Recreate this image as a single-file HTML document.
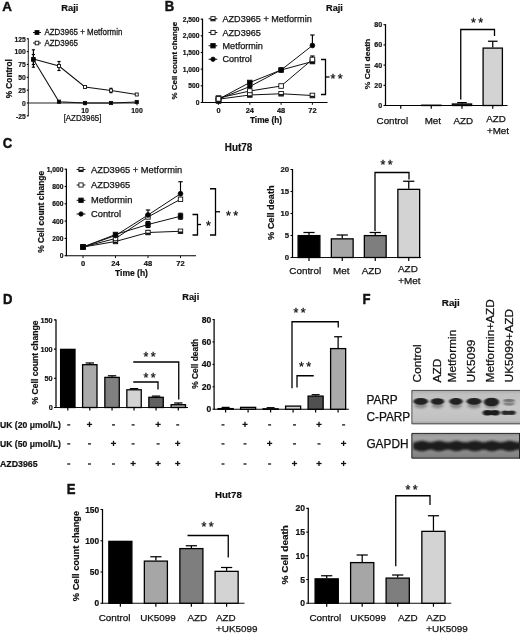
<!DOCTYPE html>
<html><head><meta charset="utf-8"><title>Figure</title>
<style>
html,body{margin:0;padding:0;background:#fff;}
body{width:520px;height:633px;overflow:hidden;}
svg{display:block;font-family:"Liberation Sans", sans-serif;filter:blur(0.35px);}
</style></head><body>
<svg width="520" height="633" viewBox="0 0 520 633">
<rect width="520" height="633" fill="#fff"/>
<text x="2.2" y="11.4" font-size="13.4" font-weight="bold" stroke="#111" stroke-width="0.45" text-anchor="start" fill="#111">A</text>
<text x="0" y="0" font-size="13.79" font-weight="bold" stroke="#111" stroke-width="0.45" text-anchor="start" fill="#111" transform="translate(164.8 11.1) scale(0.95 1)">B</text>
<text x="0" y="0" font-size="13.79" font-weight="bold" stroke="#111" stroke-width="0.45" text-anchor="start" fill="#111" transform="translate(2.7 147.8) scale(0.95 1)">C</text>
<text x="0" y="0" font-size="13.79" font-weight="bold" stroke="#111" stroke-width="0.45" text-anchor="start" fill="#111" transform="translate(2.9 303.6) scale(0.95 1)">D</text>
<text x="0" y="0" font-size="13.79" font-weight="bold" stroke="#111" stroke-width="0.45" text-anchor="start" fill="#111" transform="translate(66.8 494) scale(0.95 1)">E</text>
<text x="0" y="0" font-size="13.79" font-weight="bold" stroke="#111" stroke-width="0.45" text-anchor="start" fill="#111" transform="translate(362.5 303.6) scale(0.95 1)">F</text>
<text x="69.8" y="11.4" font-size="9.3" font-weight="bold" stroke="#111" stroke-width="0.2" text-anchor="middle" fill="#111">Raji</text>
<line x1="28.3" y1="38.25" x2="28.3" y2="116.35" stroke="#222" stroke-width="1.0"/>
<line x1="26.8" y1="38.75" x2="28.3" y2="38.75" stroke="#000" stroke-width="1.1"/>
<text x="0" y="0" font-size="7.91" font-weight="bold" stroke="#111" stroke-width="0.2" text-anchor="end" fill="#111" transform="translate(25.8 41.58) scale(0.86 1)">125</text>
<line x1="26.8" y1="51.6" x2="28.3" y2="51.6" stroke="#000" stroke-width="1.1"/>
<text x="0" y="0" font-size="7.91" font-weight="bold" stroke="#111" stroke-width="0.2" text-anchor="end" fill="#111" transform="translate(25.8 54.43) scale(0.86 1)">100</text>
<line x1="26.8" y1="64.45" x2="28.3" y2="64.45" stroke="#000" stroke-width="1.1"/>
<text x="0" y="0" font-size="7.91" font-weight="bold" stroke="#111" stroke-width="0.2" text-anchor="end" fill="#111" transform="translate(25.8 67.28) scale(0.86 1)">75</text>
<line x1="26.8" y1="77.3" x2="28.3" y2="77.3" stroke="#000" stroke-width="1.1"/>
<text x="0" y="0" font-size="7.91" font-weight="bold" stroke="#111" stroke-width="0.2" text-anchor="end" fill="#111" transform="translate(25.8 80.13) scale(0.86 1)">50</text>
<line x1="26.8" y1="90.15" x2="28.3" y2="90.15" stroke="#000" stroke-width="1.1"/>
<text x="0" y="0" font-size="7.91" font-weight="bold" stroke="#111" stroke-width="0.2" text-anchor="end" fill="#111" transform="translate(25.8 92.98) scale(0.86 1)">25</text>
<line x1="26.8" y1="103.0" x2="28.3" y2="103.0" stroke="#000" stroke-width="1.1"/>
<text x="0" y="0" font-size="7.91" font-weight="bold" stroke="#111" stroke-width="0.2" text-anchor="end" fill="#111" transform="translate(25.8 105.83) scale(0.86 1)">0</text>
<line x1="26.8" y1="115.85" x2="28.3" y2="115.85" stroke="#000" stroke-width="1.1"/>
<text x="0" y="0" font-size="7.91" font-weight="bold" stroke="#111" stroke-width="0.2" text-anchor="end" fill="#111" transform="translate(25.8 118.68) scale(0.86 1)">-25</text>
<line x1="28.3" y1="103" x2="137.5" y2="103" stroke="#222" stroke-width="1.0"/>
<line x1="85" y1="103" x2="85" y2="105.3" stroke="#111" stroke-width="1"/>
<line x1="137" y1="103" x2="137" y2="105.3" stroke="#111" stroke-width="1"/>
<text x="0" y="0" font-size="7.84" font-weight="bold" stroke="#111" stroke-width="0.2" text-anchor="middle" fill="#111" transform="translate(85 113.11) scale(0.88 1)">10</text>
<text x="0" y="0" font-size="7.84" font-weight="bold" stroke="#111" stroke-width="0.2" text-anchor="middle" fill="#111" transform="translate(137 113.11) scale(0.88 1)">100</text>
<text x="0" y="0" font-size="8.49" stroke="#111" stroke-width="0.25" text-anchor="middle" fill="#111" transform="translate(82.5 121.04) scale(0.93 1)">[AZD3965]</text>
<text x="12.37" y="78.75" font-size="8.3" font-weight="bold" stroke="#111" stroke-width="0.2" text-anchor="middle" fill="#111" transform="rotate(-90 12.37 78.75)">% Control</text>
<line x1="33" y1="32.5" x2="41" y2="32.5" stroke="#111" stroke-width="1"/>
<rect x="35.05" y="30.55" width="3.9" height="3.9" fill="#000" stroke="#111" stroke-width="0.9"/>
<text x="0" y="0" font-size="8.64" stroke="#111" stroke-width="0.25" text-anchor="start" fill="#111" transform="translate(44.4 35.39) scale(0.92 1)">AZD3965 + Metformin</text>
<line x1="33" y1="43" x2="41" y2="43" stroke="#111" stroke-width="1"/>
<rect x="35.2" y="41.2" width="3.6" height="3.6" fill="#fff" stroke="#111" stroke-width="0.9"/>
<text x="0" y="0" font-size="8.64" stroke="#111" stroke-width="0.25" text-anchor="start" fill="#111" transform="translate(44.4 45.89) scale(0.92 1)">AZD3965</text>
<polyline points="33.4,59 59,66 85,87 111,90.5 136.75,94.5" fill="none" stroke="#111" stroke-width="1.1"/>
<polyline points="33.4,59.5 59,101.7 85,103 111,103 136.75,102" fill="none" stroke="#111" stroke-width="1.1"/>
<line x1="33.4" y1="49.8" x2="33.4" y2="67.2" stroke="#000" stroke-width="1.15"/>
<line x1="31.799999999999997" y1="49.8" x2="35.0" y2="49.8" stroke="#000" stroke-width="1.15"/>
<line x1="31.799999999999997" y1="67.2" x2="35.0" y2="67.2" stroke="#000" stroke-width="1.15"/>
<line x1="33.4" y1="54.5" x2="33.4" y2="64.5" stroke="#000" stroke-width="1.15"/>
<line x1="31.799999999999997" y1="54.5" x2="35.0" y2="54.5" stroke="#000" stroke-width="1.15"/>
<line x1="31.799999999999997" y1="64.5" x2="35.0" y2="64.5" stroke="#000" stroke-width="1.15"/>
<line x1="59" y1="61.5" x2="59" y2="70.5" stroke="#000" stroke-width="1.15"/>
<line x1="57.4" y1="61.5" x2="60.6" y2="61.5" stroke="#000" stroke-width="1.15"/>
<line x1="57.4" y1="70.5" x2="60.6" y2="70.5" stroke="#000" stroke-width="1.15"/>
<line x1="111" y1="88.3" x2="111" y2="92.7" stroke="#000" stroke-width="1.15"/>
<line x1="109.6" y1="88.3" x2="112.4" y2="88.3" stroke="#000" stroke-width="1.15"/>
<line x1="109.6" y1="92.7" x2="112.4" y2="92.7" stroke="#000" stroke-width="1.15"/>
<rect x="31.8" y="57.9" width="3.2" height="3.2" fill="#000" stroke="#111" stroke-width="0.9"/>
<rect x="57.4" y="100.1" width="3.2" height="3.2" fill="#000" stroke="#111" stroke-width="0.9"/>
<rect x="83.4" y="101.4" width="3.2" height="3.2" fill="#000" stroke="#111" stroke-width="0.9"/>
<rect x="109.4" y="101.4" width="3.2" height="3.2" fill="#000" stroke="#111" stroke-width="0.9"/>
<rect x="135.15" y="100.4" width="3.2" height="3.2" fill="#000" stroke="#111" stroke-width="0.9"/>
<rect x="31.9" y="57.5" width="3.0" height="3.0" fill="#fff" stroke="#111" stroke-width="0.9"/>
<rect x="57.5" y="64.5" width="3.0" height="3.0" fill="#fff" stroke="#111" stroke-width="0.9"/>
<rect x="83.5" y="85.5" width="3.0" height="3.0" fill="#fff" stroke="#111" stroke-width="0.9"/>
<rect x="109.5" y="89.0" width="3.0" height="3.0" fill="#fff" stroke="#111" stroke-width="0.9"/>
<rect x="135.25" y="93.0" width="3.0" height="3.0" fill="#fff" stroke="#111" stroke-width="0.9"/>
<rect x="31.7" y="57.8" width="3.4" height="3.4" fill="#000" stroke="#111" stroke-width="0.9"/>
<text x="334.5" y="11.2" font-size="9.2" font-weight="bold" stroke="#111" stroke-width="0.2" text-anchor="middle" fill="#111">Raji</text>
<line x1="202.5" y1="18.64999999999999" x2="202.5" y2="103.0" stroke="#000" stroke-width="1.25"/>
<line x1="200.7" y1="19.14999999999999" x2="202.5" y2="19.14999999999999" stroke="#000" stroke-width="1.1"/>
<text x="199.5" y="21.55" font-size="6.7" font-weight="bold" stroke="#111" stroke-width="0.2" text-anchor="end" fill="#111">2,500</text>
<line x1="200.7" y1="35.81999999999999" x2="202.5" y2="35.81999999999999" stroke="#000" stroke-width="1.1"/>
<text x="199.5" y="38.22" font-size="6.7" font-weight="bold" stroke="#111" stroke-width="0.2" text-anchor="end" fill="#111">2,000</text>
<line x1="200.7" y1="52.489999999999995" x2="202.5" y2="52.489999999999995" stroke="#000" stroke-width="1.1"/>
<text x="199.5" y="54.89" font-size="6.7" font-weight="bold" stroke="#111" stroke-width="0.2" text-anchor="end" fill="#111">1,500</text>
<line x1="200.7" y1="69.16" x2="202.5" y2="69.16" stroke="#000" stroke-width="1.1"/>
<text x="199.5" y="71.56" font-size="6.7" font-weight="bold" stroke="#111" stroke-width="0.2" text-anchor="end" fill="#111">1,000</text>
<line x1="200.7" y1="85.83" x2="202.5" y2="85.83" stroke="#000" stroke-width="1.1"/>
<text x="199.5" y="88.23" font-size="6.7" font-weight="bold" stroke="#111" stroke-width="0.2" text-anchor="end" fill="#111">500</text>
<line x1="200.7" y1="102.5" x2="202.5" y2="102.5" stroke="#000" stroke-width="1.1"/>
<text x="199.5" y="104.9" font-size="6.7" font-weight="bold" stroke="#111" stroke-width="0.2" text-anchor="end" fill="#111">0</text>
<line x1="202.5" y1="102.5" x2="327.5" y2="102.5" stroke="#000" stroke-width="1.15"/>
<line x1="218.5" y1="102.5" x2="218.5" y2="104.8" stroke="#111" stroke-width="1"/>
<text x="218.5" y="112.65" font-size="7.4" font-weight="bold" stroke="#111" stroke-width="0.2" text-anchor="middle" fill="#111">0</text>
<line x1="249.8" y1="102.5" x2="249.8" y2="104.8" stroke="#111" stroke-width="1"/>
<text x="249.8" y="112.65" font-size="7.4" font-weight="bold" stroke="#111" stroke-width="0.2" text-anchor="middle" fill="#111">24</text>
<line x1="281.1" y1="102.5" x2="281.1" y2="104.8" stroke="#111" stroke-width="1"/>
<text x="281.1" y="112.65" font-size="7.4" font-weight="bold" stroke="#111" stroke-width="0.2" text-anchor="middle" fill="#111">48</text>
<line x1="312.4" y1="102.5" x2="312.4" y2="104.8" stroke="#111" stroke-width="1"/>
<text x="312.4" y="112.65" font-size="7.4" font-weight="bold" stroke="#111" stroke-width="0.2" text-anchor="middle" fill="#111">72</text>
<text x="266" y="122.97" font-size="8.3" font-weight="bold" stroke="#111" stroke-width="0.2" text-anchor="middle" fill="#111">Time (h)</text>
<text x="176.75" y="60.7" font-size="7.95" font-weight="bold" stroke="#111" stroke-width="0.2" text-anchor="middle" fill="#111" transform="rotate(-90 176.75 60.7)">% Cell count change</text>
<line x1="208.6" y1="18.75" x2="217.4" y2="18.75" stroke="#111" stroke-width="1"/>
<rect x="210.9" y="16.65" width="4.2" height="4.2" fill="#fff" stroke="#111" stroke-width="0.9"/>
<line x1="210.9" y1="19.85" x2="215.1" y2="19.85" stroke="#111" stroke-width="1.7"/>
<text x="222.5" y="21.81" font-size="9.1" stroke="#111" stroke-width="0.25" text-anchor="start" fill="#111">AZD3965 + Metformin</text>
<line x1="208.6" y1="32.5" x2="217.4" y2="32.5" stroke="#111" stroke-width="1"/>
<rect x="210.9" y="30.4" width="4.2" height="4.2" fill="#fff" stroke="#111" stroke-width="0.9"/>
<text x="222.5" y="35.56" font-size="9.1" stroke="#111" stroke-width="0.25" text-anchor="start" fill="#111">AZD3965</text>
<line x1="208.6" y1="45.75" x2="217.4" y2="45.75" stroke="#111" stroke-width="1"/>
<rect x="210.8" y="43.55" width="4.4" height="4.4" fill="#000" stroke="#111" stroke-width="0.9"/>
<text x="222.5" y="48.81" font-size="9.1" stroke="#111" stroke-width="0.25" text-anchor="start" fill="#111">Metformin</text>
<line x1="208.6" y1="59.25" x2="217.4" y2="59.25" stroke="#111" stroke-width="1"/>
<circle cx="213" cy="59.25" r="2.2" fill="#000" stroke="#111" stroke-width="0.8"/>
<text x="222.5" y="62.31" font-size="9.1" stroke="#111" stroke-width="0.25" text-anchor="start" fill="#111">Control</text>
<polyline points="218.5,99.2 249.8,86.5 281.1,70 312.4,45.5" fill="none" stroke="#111" stroke-width="1.0"/>
<polyline points="218.5,99.2 249.8,82.5 281.1,70 312.4,61.5" fill="none" stroke="#111" stroke-width="1.0"/>
<polyline points="218.5,98 249.8,91 281.1,86 312.4,59.5" fill="none" stroke="#111" stroke-width="1.0"/>
<polyline points="218.5,99.2 249.8,95 281.1,93.75 312.4,95.5" fill="none" stroke="#111" stroke-width="1.0"/>
<line x1="312.4" y1="35" x2="312.4" y2="45.5" stroke="#000" stroke-width="1.15"/>
<line x1="310.2" y1="35" x2="314.59999999999997" y2="35" stroke="#000" stroke-width="1.15"/>
<line x1="312.4" y1="56" x2="312.4" y2="59.5" stroke="#000" stroke-width="1.15"/>
<line x1="310.2" y1="56" x2="314.59999999999997" y2="56" stroke="#000" stroke-width="1.15"/>
<circle cx="218.5" cy="99.2" r="2.4" fill="#000" stroke="#111" stroke-width="0.8"/>
<circle cx="249.8" cy="86.5" r="2.4" fill="#000" stroke="#111" stroke-width="0.8"/>
<circle cx="281.1" cy="70" r="2.4" fill="#000" stroke="#111" stroke-width="0.8"/>
<circle cx="312.4" cy="45.5" r="2.4" fill="#000" stroke="#111" stroke-width="0.8"/>
<rect x="216.2" y="96.9" width="4.6" height="4.6" fill="#000" stroke="#111" stroke-width="0.9"/>
<rect x="247.5" y="80.2" width="4.6" height="4.6" fill="#000" stroke="#111" stroke-width="0.9"/>
<rect x="278.8" y="67.7" width="4.6" height="4.6" fill="#000" stroke="#111" stroke-width="0.9"/>
<rect x="310.1" y="59.2" width="4.6" height="4.6" fill="#000" stroke="#111" stroke-width="0.9"/>
<rect x="216.2" y="95.7" width="4.6" height="4.6" fill="#fff" stroke="#111" stroke-width="0.9"/>
<rect x="247.5" y="88.7" width="4.6" height="4.6" fill="#fff" stroke="#111" stroke-width="0.9"/>
<rect x="278.8" y="83.7" width="4.6" height="4.6" fill="#fff" stroke="#111" stroke-width="0.9"/>
<rect x="310.1" y="57.2" width="4.6" height="4.6" fill="#fff" stroke="#111" stroke-width="0.9"/>
<rect x="216.2" y="96.9" width="4.6" height="4.6" fill="#fff" stroke="#111" stroke-width="0.9"/>
<line x1="216.2" y1="100.4" x2="220.8" y2="100.4" stroke="#111" stroke-width="1.8"/>
<rect x="247.5" y="92.7" width="4.6" height="4.6" fill="#fff" stroke="#111" stroke-width="0.9"/>
<line x1="247.5" y1="96.2" x2="252.10000000000002" y2="96.2" stroke="#111" stroke-width="1.8"/>
<rect x="278.8" y="91.45" width="4.6" height="4.6" fill="#fff" stroke="#111" stroke-width="0.9"/>
<line x1="278.8" y1="94.95" x2="283.40000000000003" y2="94.95" stroke="#111" stroke-width="1.8"/>
<rect x="310.1" y="93.2" width="4.6" height="4.6" fill="#fff" stroke="#111" stroke-width="0.9"/>
<line x1="310.09999999999997" y1="96.7" x2="314.7" y2="96.7" stroke="#111" stroke-width="1.8"/>
<rect x="216.2" y="98.7" width="4.6" height="4.6" fill="#000" stroke="#111" stroke-width="0.9"/>
<rect x="216.2" y="96.6" width="4.6" height="4.6" fill="#fff" stroke="#111" stroke-width="0.9"/>
<polyline points="321,59.5 325.5,59.5 325.5,94.5 321,94.5" fill="none" stroke="#000" stroke-width="1.3"/>
<line x1="325.5" y1="77" x2="329.5" y2="77" stroke="#000" stroke-width="1.3"/>
<text x="333.0 340.2" y="83.4" font-size="12.5" text-anchor="middle" fill="#111" stroke="#111" stroke-width="0.3">**</text>
<line x1="385.5" y1="24.200000000000003" x2="385.5" y2="106.0" stroke="#000" stroke-width="1.25"/>
<line x1="383.5" y1="24.700000000000003" x2="385.5" y2="24.700000000000003" stroke="#000" stroke-width="1.1"/>
<text x="382.2" y="27.24" font-size="7.1" font-weight="bold" stroke="#111" stroke-width="0.2" text-anchor="end" fill="#111">80</text>
<line x1="383.5" y1="44.9" x2="385.5" y2="44.9" stroke="#000" stroke-width="1.1"/>
<text x="382.2" y="47.44" font-size="7.1" font-weight="bold" stroke="#111" stroke-width="0.2" text-anchor="end" fill="#111">60</text>
<line x1="383.5" y1="65.1" x2="385.5" y2="65.1" stroke="#000" stroke-width="1.1"/>
<text x="382.2" y="67.64" font-size="7.1" font-weight="bold" stroke="#111" stroke-width="0.2" text-anchor="end" fill="#111">40</text>
<line x1="383.5" y1="85.3" x2="385.5" y2="85.3" stroke="#000" stroke-width="1.1"/>
<text x="382.2" y="87.84" font-size="7.1" font-weight="bold" stroke="#111" stroke-width="0.2" text-anchor="end" fill="#111">20</text>
<line x1="383.5" y1="105.5" x2="385.5" y2="105.5" stroke="#000" stroke-width="1.1"/>
<text x="382.2" y="108.04" font-size="7.1" font-weight="bold" stroke="#111" stroke-width="0.2" text-anchor="end" fill="#111">0</text>
<line x1="385.5" y1="105.5" x2="507.5" y2="105.5" stroke="#000" stroke-width="1.15"/>
<text x="0" y="0" font-size="7.59" font-weight="bold" stroke="#111" stroke-width="0.2" text-anchor="middle" fill="#111" transform="translate(369.72 64) rotate(-90) scale(1.12 1)">% Cell death</text>
<rect x="391.1" y="105.6" width="19.3" height="-0.1" fill="#000" stroke="#000" stroke-width="1.3"/>
<line x1="400.75" y1="105.5" x2="400.75" y2="108.8" stroke="#000" stroke-width="1.2"/>
<rect x="421.6" y="105.19999999999999" width="19.3" height="0.3" fill="#a6a6a6" stroke="#000" stroke-width="1.3"/>
<line x1="431.25" y1="105.5" x2="431.25" y2="108.8" stroke="#000" stroke-width="1.2"/>
<rect x="452.35" y="104.0" width="19.3" height="1.5" fill="#7e7e7e" stroke="#000" stroke-width="1.3"/>
<line x1="462.0" y1="102.6" x2="462.0" y2="103.4" stroke="#000" stroke-width="1.25"/>
<line x1="457.2" y1="102.6" x2="466.8" y2="102.6" stroke="#000" stroke-width="1.25"/>
<line x1="462.0" y1="105.5" x2="462.0" y2="108.8" stroke="#000" stroke-width="1.2"/>
<rect x="483.1" y="48.1" width="19.3" height="57.4" fill="#d3d3d3" stroke="#000" stroke-width="1.3"/>
<line x1="492.75" y1="41.25" x2="492.75" y2="47.5" stroke="#000" stroke-width="1.25"/>
<line x1="487.95" y1="41.25" x2="497.55" y2="41.25" stroke="#000" stroke-width="1.25"/>
<line x1="492.75" y1="105.5" x2="492.75" y2="108.8" stroke="#000" stroke-width="1.2"/>
<polyline points="460.75,99.5 460.75,29.5 494.5,29.5 494.5,36" fill="none" stroke="#000" stroke-width="1.3"/>
<text x="473.5 480.7" y="26.9" font-size="12.5" text-anchor="middle" fill="#111" stroke="#111" stroke-width="0.3">**</text>
<text x="392.4" y="123.51" font-size="9.8" stroke="#111" stroke-width="0.25" text-anchor="middle" fill="#111">Control</text>
<text x="432.8" y="123.51" font-size="9.8" stroke="#111" stroke-width="0.25" text-anchor="middle" fill="#111">Met</text>
<text x="463.3" y="123.51" font-size="9.8" stroke="#111" stroke-width="0.25" text-anchor="middle" fill="#111">AZD</text>
<text x="496" y="122.01" font-size="9.8" stroke="#111" stroke-width="0.25" text-anchor="middle" fill="#111">AZD</text>
<text x="498" y="133.91" font-size="9.8" stroke="#111" stroke-width="0.25" text-anchor="middle" fill="#111">+Met</text>
<text x="0" y="0" font-size="10.1" font-weight="bold" stroke="#111" stroke-width="0.2" text-anchor="middle" fill="#111" transform="translate(238.6 151) scale(0.98 1)">Hut78</text>
<line x1="66.4" y1="168.7" x2="66.4" y2="256.2" stroke="#000" stroke-width="1.25"/>
<line x1="64.60000000000001" y1="169.2" x2="66.4" y2="169.2" stroke="#000" stroke-width="1.1"/>
<text x="63.400000000000006" y="171.6" font-size="6.7" font-weight="bold" stroke="#111" stroke-width="0.2" text-anchor="end" fill="#111">1,000</text>
<line x1="64.60000000000001" y1="186.5" x2="66.4" y2="186.5" stroke="#000" stroke-width="1.1"/>
<text x="63.400000000000006" y="188.9" font-size="6.7" font-weight="bold" stroke="#111" stroke-width="0.2" text-anchor="end" fill="#111">800</text>
<line x1="64.60000000000001" y1="203.79999999999998" x2="66.4" y2="203.79999999999998" stroke="#000" stroke-width="1.1"/>
<text x="63.400000000000006" y="206.2" font-size="6.7" font-weight="bold" stroke="#111" stroke-width="0.2" text-anchor="end" fill="#111">600</text>
<line x1="64.60000000000001" y1="221.1" x2="66.4" y2="221.1" stroke="#000" stroke-width="1.1"/>
<text x="63.400000000000006" y="223.5" font-size="6.7" font-weight="bold" stroke="#111" stroke-width="0.2" text-anchor="end" fill="#111">400</text>
<line x1="64.60000000000001" y1="238.39999999999998" x2="66.4" y2="238.39999999999998" stroke="#000" stroke-width="1.1"/>
<text x="63.400000000000006" y="240.8" font-size="6.7" font-weight="bold" stroke="#111" stroke-width="0.2" text-anchor="end" fill="#111">200</text>
<line x1="64.60000000000001" y1="255.7" x2="66.4" y2="255.7" stroke="#000" stroke-width="1.1"/>
<text x="63.400000000000006" y="258.1" font-size="6.7" font-weight="bold" stroke="#111" stroke-width="0.2" text-anchor="end" fill="#111">0</text>
<line x1="66.4" y1="255.7" x2="196" y2="255.7" stroke="#000" stroke-width="1.15"/>
<line x1="83" y1="255.7" x2="83" y2="258.09999999999997" stroke="#111" stroke-width="1"/>
<text x="83" y="265.79" font-size="7.5" font-weight="bold" stroke="#111" stroke-width="0.2" text-anchor="middle" fill="#111">0</text>
<line x1="115.5" y1="255.7" x2="115.5" y2="258.09999999999997" stroke="#111" stroke-width="1"/>
<text x="115.5" y="265.79" font-size="7.5" font-weight="bold" stroke="#111" stroke-width="0.2" text-anchor="middle" fill="#111">24</text>
<line x1="148" y1="255.7" x2="148" y2="258.09999999999997" stroke="#111" stroke-width="1"/>
<text x="148" y="265.79" font-size="7.5" font-weight="bold" stroke="#111" stroke-width="0.2" text-anchor="middle" fill="#111">48</text>
<line x1="180.5" y1="255.7" x2="180.5" y2="258.09999999999997" stroke="#111" stroke-width="1"/>
<text x="180.5" y="265.79" font-size="7.5" font-weight="bold" stroke="#111" stroke-width="0.2" text-anchor="middle" fill="#111">72</text>
<text x="131.5" y="276.04" font-size="8.5" font-weight="bold" stroke="#111" stroke-width="0.2" text-anchor="middle" fill="#111">Time (h)</text>
<text x="43.91" y="211.9" font-size="8.4" font-weight="bold" stroke="#111" stroke-width="0.2" text-anchor="middle" fill="#111" transform="rotate(-90 43.91 211.9)">% Cell count change</text>
<line x1="76.6" y1="169.5" x2="85.4" y2="169.5" stroke="#111" stroke-width="1"/>
<rect x="78.9" y="167.4" width="4.2" height="4.2" fill="#fff" stroke="#111" stroke-width="0.9"/>
<line x1="78.9" y1="170.6" x2="83.1" y2="170.6" stroke="#111" stroke-width="1.7"/>
<text x="91" y="172.63" font-size="9.3" stroke="#111" stroke-width="0.25" text-anchor="start" fill="#111">AZD3965 + Metformin</text>
<line x1="76.6" y1="185" x2="85.4" y2="185" stroke="#111" stroke-width="1"/>
<rect x="78.9" y="182.9" width="4.2" height="4.2" fill="#fff" stroke="#111" stroke-width="0.9"/>
<text x="91" y="188.13" font-size="9.3" stroke="#111" stroke-width="0.25" text-anchor="start" fill="#111">AZD3965</text>
<line x1="76.6" y1="200.3" x2="85.4" y2="200.3" stroke="#111" stroke-width="1"/>
<rect x="78.8" y="198.1" width="4.4" height="4.4" fill="#000" stroke="#111" stroke-width="0.9"/>
<text x="91" y="203.43" font-size="9.3" stroke="#111" stroke-width="0.25" text-anchor="start" fill="#111">Metformin</text>
<line x1="76.6" y1="214" x2="85.4" y2="214" stroke="#111" stroke-width="1"/>
<circle cx="81" cy="214" r="2.2" fill="#000" stroke="#111" stroke-width="0.8"/>
<text x="91" y="217.13" font-size="9.3" stroke="#111" stroke-width="0.25" text-anchor="start" fill="#111">Control</text>
<polyline points="83,247 115.5,235.5 148,215 180.5,193.75" fill="none" stroke="#111" stroke-width="1.0"/>
<polyline points="83,247 115.5,238.5 148,217 180.5,199.25" fill="none" stroke="#111" stroke-width="1.0"/>
<polyline points="83,247 115.5,234.5 148,224.5 180.5,216.25" fill="none" stroke="#111" stroke-width="1.0"/>
<polyline points="83,247 115.5,241.5 148,232.5 180.5,231.25" fill="none" stroke="#111" stroke-width="1.0"/>
<line x1="180.5" y1="181.75" x2="180.5" y2="193.75" stroke="#000" stroke-width="1.15"/>
<line x1="178.3" y1="181.75" x2="182.7" y2="181.75" stroke="#000" stroke-width="1.15"/>
<line x1="148" y1="210" x2="148" y2="215" stroke="#000" stroke-width="1.15"/>
<line x1="145.8" y1="210" x2="150.2" y2="210" stroke="#000" stroke-width="1.15"/>
<line x1="180.5" y1="213.25" x2="180.5" y2="219.25" stroke="#000" stroke-width="1.15"/>
<line x1="178.3" y1="213.25" x2="182.7" y2="213.25" stroke="#000" stroke-width="1.15"/>
<line x1="178.3" y1="219.25" x2="182.7" y2="219.25" stroke="#000" stroke-width="1.15"/>
<line x1="148" y1="221.5" x2="148" y2="227.5" stroke="#000" stroke-width="1.15"/>
<line x1="145.8" y1="221.5" x2="150.2" y2="221.5" stroke="#000" stroke-width="1.15"/>
<line x1="145.8" y1="227.5" x2="150.2" y2="227.5" stroke="#000" stroke-width="1.15"/>
<line x1="148" y1="230.5" x2="148" y2="234.5" stroke="#000" stroke-width="1.15"/>
<line x1="145.8" y1="230.5" x2="150.2" y2="230.5" stroke="#000" stroke-width="1.15"/>
<line x1="145.8" y1="234.5" x2="150.2" y2="234.5" stroke="#000" stroke-width="1.15"/>
<rect x="80.8" y="244.8" width="4.4" height="4.4" fill="#fff" stroke="#111" stroke-width="0.9"/>
<line x1="80.8" y1="248.1" x2="85.2" y2="248.1" stroke="#111" stroke-width="1.8"/>
<rect x="113.3" y="239.3" width="4.4" height="4.4" fill="#fff" stroke="#111" stroke-width="0.9"/>
<line x1="113.3" y1="242.6" x2="117.7" y2="242.6" stroke="#111" stroke-width="1.8"/>
<rect x="145.8" y="230.3" width="4.4" height="4.4" fill="#fff" stroke="#111" stroke-width="0.9"/>
<line x1="145.8" y1="233.6" x2="150.2" y2="233.6" stroke="#111" stroke-width="1.8"/>
<rect x="178.3" y="229.05" width="4.4" height="4.4" fill="#fff" stroke="#111" stroke-width="0.9"/>
<line x1="178.3" y1="232.35" x2="182.7" y2="232.35" stroke="#111" stroke-width="1.8"/>
<rect x="80.8" y="244.8" width="4.4" height="4.4" fill="#fff" stroke="#111" stroke-width="0.9"/>
<rect x="113.3" y="236.3" width="4.4" height="4.4" fill="#fff" stroke="#111" stroke-width="0.9"/>
<rect x="145.8" y="214.8" width="4.4" height="4.4" fill="#fff" stroke="#111" stroke-width="0.9"/>
<rect x="178.3" y="197.05" width="4.4" height="4.4" fill="#fff" stroke="#111" stroke-width="0.9"/>
<circle cx="83" cy="247" r="2.4" fill="#000" stroke="#111" stroke-width="0.8"/>
<circle cx="115.5" cy="235.5" r="2.4" fill="#000" stroke="#111" stroke-width="0.8"/>
<circle cx="148" cy="215" r="2.4" fill="#000" stroke="#111" stroke-width="0.8"/>
<circle cx="180.5" cy="193.75" r="2.4" fill="#000" stroke="#111" stroke-width="0.8"/>
<rect x="80.75" y="244.75" width="4.5" height="4.5" fill="#000" stroke="#111" stroke-width="0.9"/>
<rect x="113.25" y="232.25" width="4.5" height="4.5" fill="#000" stroke="#111" stroke-width="0.9"/>
<rect x="145.75" y="222.25" width="4.5" height="4.5" fill="#000" stroke="#111" stroke-width="0.9"/>
<rect x="178.25" y="214.0" width="4.5" height="4.5" fill="#000" stroke="#111" stroke-width="0.9"/>
<rect x="80.7" y="244.7" width="4.6" height="4.6" fill="#000" stroke="#111" stroke-width="0.9"/>
<polyline points="192.5,214.5 197.5,214.5 197.5,235 192.5,235" fill="none" stroke="#000" stroke-width="1.3"/>
<line x1="197.5" y1="224.5" x2="201" y2="224.5" stroke="#000" stroke-width="1.3"/>
<text x="208.35" y="230.4" font-size="12.5" text-anchor="middle" fill="#111" stroke="#111" stroke-width="0.3">*</text>
<polyline points="210,188.75 215.5,188.75 215.5,235 210,235" fill="none" stroke="#000" stroke-width="1.3"/>
<line x1="215.5" y1="211.75" x2="220" y2="211.75" stroke="#000" stroke-width="1.3"/>
<text x="228.5 235.7" y="220.4" font-size="12.5" text-anchor="middle" fill="#111" stroke="#111" stroke-width="0.3">**</text>
<line x1="292.5" y1="169.0" x2="292.5" y2="258.0" stroke="#000" stroke-width="1.25"/>
<line x1="290.5" y1="169.5" x2="292.5" y2="169.5" stroke="#000" stroke-width="1.1"/>
<text x="289.2" y="172.29" font-size="7.8" font-weight="bold" stroke="#111" stroke-width="0.2" text-anchor="end" fill="#111">20</text>
<line x1="290.5" y1="191.5" x2="292.5" y2="191.5" stroke="#000" stroke-width="1.1"/>
<text x="289.2" y="194.29" font-size="7.8" font-weight="bold" stroke="#111" stroke-width="0.2" text-anchor="end" fill="#111">15</text>
<line x1="290.5" y1="213.5" x2="292.5" y2="213.5" stroke="#000" stroke-width="1.1"/>
<text x="289.2" y="216.29" font-size="7.8" font-weight="bold" stroke="#111" stroke-width="0.2" text-anchor="end" fill="#111">10</text>
<line x1="290.5" y1="235.5" x2="292.5" y2="235.5" stroke="#000" stroke-width="1.1"/>
<text x="289.2" y="238.29" font-size="7.8" font-weight="bold" stroke="#111" stroke-width="0.2" text-anchor="end" fill="#111">5</text>
<line x1="290.5" y1="257.5" x2="292.5" y2="257.5" stroke="#000" stroke-width="1.1"/>
<text x="289.2" y="260.29" font-size="7.8" font-weight="bold" stroke="#111" stroke-width="0.2" text-anchor="end" fill="#111">0</text>
<line x1="292.5" y1="257.5" x2="421" y2="257.5" stroke="#111" stroke-width="1.1"/>
<text x="0" y="0" font-size="8.68" font-weight="bold" stroke="#111" stroke-width="0.2" text-anchor="middle" fill="#111" transform="translate(274.01 212.7) rotate(-90) scale(1.06 1)">% Cell death</text>
<rect x="298.1" y="235.6" width="21.8" height="21.9" fill="#000" stroke="#000" stroke-width="1.3"/>
<line x1="309.0" y1="232.5" x2="309.0" y2="235" stroke="#000" stroke-width="1.25"/>
<line x1="303.4" y1="232.5" x2="314.6" y2="232.5" stroke="#000" stroke-width="1.25"/>
<line x1="309.0" y1="257.5" x2="309.0" y2="260.9" stroke="#000" stroke-width="1.2"/>
<rect x="331.35" y="238.85" width="21.8" height="18.65" fill="#a6a6a6" stroke="#000" stroke-width="1.3"/>
<line x1="342.25" y1="235" x2="342.25" y2="238.25" stroke="#000" stroke-width="1.25"/>
<line x1="336.65" y1="235" x2="347.85" y2="235" stroke="#000" stroke-width="1.25"/>
<line x1="342.25" y1="257.5" x2="342.25" y2="260.9" stroke="#000" stroke-width="1.2"/>
<rect x="364.35" y="235.6" width="21.8" height="21.9" fill="#7e7e7e" stroke="#000" stroke-width="1.3"/>
<line x1="375.25" y1="232.5" x2="375.25" y2="235" stroke="#000" stroke-width="1.25"/>
<line x1="369.65" y1="232.5" x2="380.85" y2="232.5" stroke="#000" stroke-width="1.25"/>
<line x1="375.25" y1="257.5" x2="375.25" y2="260.9" stroke="#000" stroke-width="1.2"/>
<rect x="397.85" y="189.35" width="21.8" height="68.15" fill="#d3d3d3" stroke="#000" stroke-width="1.3"/>
<line x1="408.75" y1="181.25" x2="408.75" y2="188.75" stroke="#000" stroke-width="1.25"/>
<line x1="403.15" y1="181.25" x2="414.35" y2="181.25" stroke="#000" stroke-width="1.25"/>
<line x1="408.75" y1="257.5" x2="408.75" y2="260.9" stroke="#000" stroke-width="1.2"/>
<polyline points="375,231 375,172.5 409,172.5 409,179.5" fill="none" stroke="#000" stroke-width="1.3"/>
<text x="383.0 390.2" y="168.9" font-size="12.5" text-anchor="middle" fill="#111" stroke="#111" stroke-width="0.3">**</text>
<text x="305.2" y="273.64" font-size="9.9" stroke="#111" stroke-width="0.25" text-anchor="middle" fill="#111">Control</text>
<text x="341.3" y="273.64" font-size="9.9" stroke="#111" stroke-width="0.25" text-anchor="middle" fill="#111">Met</text>
<text x="371.5" y="273.64" font-size="9.9" stroke="#111" stroke-width="0.25" text-anchor="middle" fill="#111">AZD</text>
<text x="407.9" y="271.74" font-size="9.9" stroke="#111" stroke-width="0.25" text-anchor="middle" fill="#111">AZD</text>
<text x="409.3" y="284.44" font-size="9.9" stroke="#111" stroke-width="0.25" text-anchor="middle" fill="#111">+Met</text>
<text x="190.8" y="300.3" font-size="9.2" font-weight="bold" stroke="#111" stroke-width="0.2" text-anchor="middle" fill="#111">Raji</text>
<line x1="56" y1="319.4" x2="56" y2="408.0" stroke="#000" stroke-width="1.25"/>
<line x1="54.0" y1="319.9" x2="56" y2="319.9" stroke="#000" stroke-width="1.1"/>
<text x="52.7" y="322.51" font-size="7.3" font-weight="bold" stroke="#111" stroke-width="0.2" text-anchor="end" fill="#111">150</text>
<line x1="54.0" y1="349.1" x2="56" y2="349.1" stroke="#000" stroke-width="1.1"/>
<text x="52.7" y="351.71" font-size="7.3" font-weight="bold" stroke="#111" stroke-width="0.2" text-anchor="end" fill="#111">100</text>
<line x1="54.0" y1="378.3" x2="56" y2="378.3" stroke="#000" stroke-width="1.1"/>
<text x="52.7" y="380.91" font-size="7.3" font-weight="bold" stroke="#111" stroke-width="0.2" text-anchor="end" fill="#111">50</text>
<line x1="54.0" y1="407.5" x2="56" y2="407.5" stroke="#000" stroke-width="1.1"/>
<text x="52.7" y="410.11" font-size="7.3" font-weight="bold" stroke="#111" stroke-width="0.2" text-anchor="end" fill="#111">0</text>
<line x1="56" y1="407.5" x2="188" y2="407.5" stroke="#111" stroke-width="1.1"/>
<text x="37.88" y="362.5" font-size="8.6" font-weight="bold" stroke="#111" stroke-width="0.2" text-anchor="middle" fill="#111" transform="rotate(-90 37.88 362.5)">% Cell count change</text>
<rect x="60.6" y="349.35" width="14.4" height="58.15" fill="#000" stroke="#000" stroke-width="1.3"/>
<line x1="67.8" y1="407.5" x2="67.8" y2="410.5" stroke="#000" stroke-width="1.2"/>
<rect x="82.6" y="364.70000000000005" width="14.4" height="42.8" fill="#aaa" stroke="#000" stroke-width="1.3"/>
<line x1="89.8" y1="363.0" x2="89.8" y2="364.1" stroke="#000" stroke-width="1.25"/>
<line x1="85.6" y1="363.0" x2="94.0" y2="363.0" stroke="#000" stroke-width="1.25"/>
<line x1="89.8" y1="407.5" x2="89.8" y2="410.5" stroke="#000" stroke-width="1.2"/>
<rect x="104.85" y="377.40000000000003" width="14.4" height="30.1" fill="#808080" stroke="#000" stroke-width="1.3"/>
<line x1="112.05" y1="375.8" x2="112.05" y2="376.8" stroke="#000" stroke-width="1.25"/>
<line x1="107.85" y1="375.8" x2="116.25" y2="375.8" stroke="#000" stroke-width="1.25"/>
<line x1="112.05" y1="407.5" x2="112.05" y2="410.5" stroke="#000" stroke-width="1.2"/>
<rect x="126.85" y="389.8" width="14.4" height="17.7" fill="#d3d3d3" stroke="#000" stroke-width="1.3"/>
<line x1="134.05" y1="388.6" x2="134.05" y2="389.2" stroke="#000" stroke-width="1.25"/>
<line x1="129.85000000000002" y1="388.6" x2="138.25" y2="388.6" stroke="#000" stroke-width="1.25"/>
<line x1="134.05" y1="407.5" x2="134.05" y2="410.5" stroke="#000" stroke-width="1.2"/>
<rect x="148.85" y="397.3" width="14.4" height="10.2" fill="#606060" stroke="#000" stroke-width="1.3"/>
<line x1="156.05" y1="396.1" x2="156.05" y2="396.7" stroke="#000" stroke-width="1.25"/>
<line x1="151.85000000000002" y1="396.1" x2="160.25" y2="396.1" stroke="#000" stroke-width="1.25"/>
<line x1="156.05" y1="407.5" x2="156.05" y2="410.5" stroke="#000" stroke-width="1.2"/>
<rect x="171.1" y="404.70000000000005" width="14.4" height="2.8" fill="#aaa" stroke="#000" stroke-width="1.3"/>
<line x1="178.3" y1="403.0" x2="178.3" y2="404.1" stroke="#000" stroke-width="1.25"/>
<line x1="174.10000000000002" y1="403.0" x2="182.5" y2="403.0" stroke="#000" stroke-width="1.25"/>
<line x1="178.3" y1="407.5" x2="178.3" y2="410.5" stroke="#000" stroke-width="1.2"/>
<polyline points="133.25,382 158,382 158,389.5" fill="none" stroke="#000" stroke-width="1.3"/>
<text x="146.0 153.2" y="381.9" font-size="12.5" text-anchor="middle" fill="#111" stroke="#111" stroke-width="0.3">**</text>
<polyline points="133.25,362 178.75,362 178.75,399.5" fill="none" stroke="#000" stroke-width="1.3"/>
<text x="146.0 153.2" y="360.9" font-size="12.5" text-anchor="middle" fill="#111" stroke="#111" stroke-width="0.3">**</text>
<text x="0" y="427.5" font-size="8.65" font-weight="bold" stroke="#111" stroke-width="0.2" text-anchor="start" fill="#111">UK (20 μmol/L)</text>
<text x="0" y="446.9" font-size="8.65" font-weight="bold" stroke="#111" stroke-width="0.2" text-anchor="start" fill="#111">UK (50 μmol/L)</text>
<text x="0" y="467.05" font-size="8.8" font-weight="bold" stroke="#111" stroke-width="0.2" text-anchor="start" fill="#111">AZD3965</text>
<line x1="67.25" y1="424.9" x2="70.25" y2="424.9" stroke="#111" stroke-width="1.3"/>
<line x1="86.9" y1="424.4" x2="92.1" y2="424.4" stroke="#111" stroke-width="1.3"/>
<line x1="89.5" y1="421.79999999999995" x2="89.5" y2="427.0" stroke="#111" stroke-width="1.3"/>
<line x1="112.0" y1="424.9" x2="115.0" y2="424.9" stroke="#111" stroke-width="1.3"/>
<line x1="131.6" y1="424.9" x2="134.6" y2="424.9" stroke="#111" stroke-width="1.3"/>
<line x1="155.5" y1="424.4" x2="160.7" y2="424.4" stroke="#111" stroke-width="1.3"/>
<line x1="158.1" y1="421.79999999999995" x2="158.1" y2="427.0" stroke="#111" stroke-width="1.3"/>
<line x1="176.2" y1="424.9" x2="179.2" y2="424.9" stroke="#111" stroke-width="1.3"/>
<line x1="67.25" y1="443.9" x2="70.25" y2="443.9" stroke="#111" stroke-width="1.3"/>
<line x1="88.0" y1="443.9" x2="91.0" y2="443.9" stroke="#111" stroke-width="1.3"/>
<line x1="110.9" y1="443.4" x2="116.1" y2="443.4" stroke="#111" stroke-width="1.3"/>
<line x1="113.5" y1="440.79999999999995" x2="113.5" y2="446.0" stroke="#111" stroke-width="1.3"/>
<line x1="131.6" y1="443.9" x2="134.6" y2="443.9" stroke="#111" stroke-width="1.3"/>
<line x1="156.6" y1="443.9" x2="159.6" y2="443.9" stroke="#111" stroke-width="1.3"/>
<line x1="175.1" y1="443.4" x2="180.29999999999998" y2="443.4" stroke="#111" stroke-width="1.3"/>
<line x1="177.7" y1="440.79999999999995" x2="177.7" y2="446.0" stroke="#111" stroke-width="1.3"/>
<line x1="67.25" y1="464.0" x2="70.25" y2="464.0" stroke="#111" stroke-width="1.3"/>
<line x1="88.0" y1="464.0" x2="91.0" y2="464.0" stroke="#111" stroke-width="1.3"/>
<line x1="112.0" y1="464.0" x2="115.0" y2="464.0" stroke="#111" stroke-width="1.3"/>
<line x1="130.5" y1="463.5" x2="135.7" y2="463.5" stroke="#111" stroke-width="1.3"/>
<line x1="133.1" y1="460.9" x2="133.1" y2="466.1" stroke="#111" stroke-width="1.3"/>
<line x1="155.5" y1="463.5" x2="160.7" y2="463.5" stroke="#111" stroke-width="1.3"/>
<line x1="158.1" y1="460.9" x2="158.1" y2="466.1" stroke="#111" stroke-width="1.3"/>
<line x1="175.1" y1="463.5" x2="180.29999999999998" y2="463.5" stroke="#111" stroke-width="1.3"/>
<line x1="177.7" y1="460.9" x2="177.7" y2="466.1" stroke="#111" stroke-width="1.3"/>
<line x1="214.1" y1="319.03" x2="214.1" y2="409.75" stroke="#000" stroke-width="1.25"/>
<line x1="212.5" y1="319.53" x2="214.1" y2="319.53" stroke="#000" stroke-width="1.1"/>
<text x="211.2" y="322.61" font-size="8.6" font-weight="bold" stroke="#111" stroke-width="0.2" text-anchor="end" fill="#111">80</text>
<line x1="212.5" y1="341.96000000000004" x2="214.1" y2="341.96000000000004" stroke="#000" stroke-width="1.1"/>
<text x="211.2" y="345.04" font-size="8.6" font-weight="bold" stroke="#111" stroke-width="0.2" text-anchor="end" fill="#111">60</text>
<line x1="212.5" y1="364.39" x2="214.1" y2="364.39" stroke="#000" stroke-width="1.1"/>
<text x="211.2" y="367.47" font-size="8.6" font-weight="bold" stroke="#111" stroke-width="0.2" text-anchor="end" fill="#111">40</text>
<line x1="212.5" y1="386.82" x2="214.1" y2="386.82" stroke="#000" stroke-width="1.1"/>
<text x="211.2" y="389.9" font-size="8.6" font-weight="bold" stroke="#111" stroke-width="0.2" text-anchor="end" fill="#111">20</text>
<line x1="212.5" y1="409.25" x2="214.1" y2="409.25" stroke="#000" stroke-width="1.1"/>
<text x="211.2" y="412.33" font-size="8.6" font-weight="bold" stroke="#111" stroke-width="0.2" text-anchor="end" fill="#111">0</text>
<line x1="214.1" y1="409.25" x2="348.75" y2="409.25" stroke="#000" stroke-width="1.2"/>
<text x="198.21" y="363.8" font-size="8.4" font-weight="bold" stroke="#111" stroke-width="0.2" text-anchor="middle" fill="#111" transform="rotate(-90 198.21 363.8)">% Cell death</text>
<rect x="218.1" y="408.6" width="15.05" height="0.65" fill="#000" stroke="#000" stroke-width="1.3"/>
<line x1="225.625" y1="407.4" x2="225.625" y2="408" stroke="#000" stroke-width="1.25"/>
<line x1="221.625" y1="407.4" x2="229.625" y2="407.4" stroke="#000" stroke-width="1.25"/>
<line x1="225.6" y1="409.25" x2="225.6" y2="412.4" stroke="#000" stroke-width="1.2"/>
<rect x="240.6" y="407.35" width="15.05" height="1.9" fill="#aaa" stroke="#000" stroke-width="1.3"/>
<line x1="248.1" y1="409.25" x2="248.1" y2="412.4" stroke="#000" stroke-width="1.2"/>
<rect x="263.1" y="408.8" width="15.05" height="0.45" fill="#808080" stroke="#000" stroke-width="1.3"/>
<line x1="270.625" y1="407.7" x2="270.625" y2="408.2" stroke="#000" stroke-width="1.25"/>
<line x1="266.625" y1="407.7" x2="274.625" y2="407.7" stroke="#000" stroke-width="1.25"/>
<line x1="270.6" y1="409.25" x2="270.6" y2="412.4" stroke="#000" stroke-width="1.2"/>
<rect x="285.6" y="406.1" width="15.05" height="3.15" fill="#d3d3d3" stroke="#000" stroke-width="1.3"/>
<line x1="293.1" y1="409.25" x2="293.1" y2="412.4" stroke="#000" stroke-width="1.2"/>
<rect x="308.1" y="396.1" width="15.05" height="13.15" fill="#505050" stroke="#000" stroke-width="1.3"/>
<line x1="315.625" y1="394.7" x2="315.625" y2="395.5" stroke="#000" stroke-width="1.25"/>
<line x1="311.625" y1="394.7" x2="319.625" y2="394.7" stroke="#000" stroke-width="1.25"/>
<line x1="315.6" y1="409.25" x2="315.6" y2="412.4" stroke="#000" stroke-width="1.2"/>
<rect x="330.6" y="348.6" width="15.05" height="60.65" fill="#aaa" stroke="#000" stroke-width="1.3"/>
<line x1="338.125" y1="336.75" x2="338.125" y2="348" stroke="#000" stroke-width="1.25"/>
<line x1="334.125" y1="336.75" x2="342.125" y2="336.75" stroke="#000" stroke-width="1.25"/>
<line x1="338.1" y1="409.25" x2="338.1" y2="412.4" stroke="#000" stroke-width="1.2"/>
<polyline points="292,388.25 292,321.75 338.25,321.75 338.25,327.5" fill="none" stroke="#000" stroke-width="1.3"/>
<text x="296.0 303.2" y="316.65" font-size="12.5" text-anchor="middle" fill="#111" stroke="#111" stroke-width="0.3">**</text>
<polyline points="297,387.5 297,375.75 313.75,375.75" fill="none" stroke="#000" stroke-width="1.3"/>
<text x="301.5 308.7" y="370.9" font-size="12.5" text-anchor="middle" fill="#111" stroke="#111" stroke-width="0.3">**</text>
<line x1="221.5" y1="424.9" x2="224.5" y2="424.9" stroke="#111" stroke-width="1.3"/>
<line x1="242.4" y1="424.4" x2="247.6" y2="424.4" stroke="#111" stroke-width="1.3"/>
<line x1="245" y1="421.79999999999995" x2="245" y2="427.0" stroke="#111" stroke-width="1.3"/>
<line x1="268.1" y1="424.9" x2="271.1" y2="424.9" stroke="#111" stroke-width="1.3"/>
<line x1="293.0" y1="424.9" x2="296.0" y2="424.9" stroke="#111" stroke-width="1.3"/>
<line x1="316.4" y1="424.4" x2="321.6" y2="424.4" stroke="#111" stroke-width="1.3"/>
<line x1="319" y1="421.79999999999995" x2="319" y2="427.0" stroke="#111" stroke-width="1.3"/>
<line x1="342.1" y1="424.9" x2="345.1" y2="424.9" stroke="#111" stroke-width="1.3"/>
<line x1="221.5" y1="443.9" x2="224.5" y2="443.9" stroke="#111" stroke-width="1.3"/>
<line x1="243.5" y1="443.9" x2="246.5" y2="443.9" stroke="#111" stroke-width="1.3"/>
<line x1="267.0" y1="443.4" x2="272.20000000000005" y2="443.4" stroke="#111" stroke-width="1.3"/>
<line x1="269.6" y1="440.79999999999995" x2="269.6" y2="446.0" stroke="#111" stroke-width="1.3"/>
<line x1="293.0" y1="443.9" x2="296.0" y2="443.9" stroke="#111" stroke-width="1.3"/>
<line x1="317.5" y1="443.9" x2="320.5" y2="443.9" stroke="#111" stroke-width="1.3"/>
<line x1="341.0" y1="443.4" x2="346.20000000000005" y2="443.4" stroke="#111" stroke-width="1.3"/>
<line x1="343.6" y1="440.79999999999995" x2="343.6" y2="446.0" stroke="#111" stroke-width="1.3"/>
<line x1="221.5" y1="464.0" x2="224.5" y2="464.0" stroke="#111" stroke-width="1.3"/>
<line x1="243.5" y1="464.0" x2="246.5" y2="464.0" stroke="#111" stroke-width="1.3"/>
<line x1="268.1" y1="464.0" x2="271.1" y2="464.0" stroke="#111" stroke-width="1.3"/>
<line x1="291.9" y1="463.5" x2="297.1" y2="463.5" stroke="#111" stroke-width="1.3"/>
<line x1="294.5" y1="460.9" x2="294.5" y2="466.1" stroke="#111" stroke-width="1.3"/>
<line x1="316.4" y1="463.5" x2="321.6" y2="463.5" stroke="#111" stroke-width="1.3"/>
<line x1="319" y1="460.9" x2="319" y2="466.1" stroke="#111" stroke-width="1.3"/>
<line x1="341.0" y1="463.5" x2="346.20000000000005" y2="463.5" stroke="#111" stroke-width="1.3"/>
<line x1="343.6" y1="460.9" x2="343.6" y2="466.1" stroke="#111" stroke-width="1.3"/>
<text x="0" y="0" font-size="9.9" font-weight="bold" stroke="#111" stroke-width="0.2" text-anchor="middle" fill="#111" transform="translate(228.4 498) scale(0.98 1)">Hut78</text>
<line x1="102.5" y1="509.0" x2="102.5" y2="603.75" stroke="#000" stroke-width="1.25"/>
<line x1="100.5" y1="509.5" x2="102.5" y2="509.5" stroke="#000" stroke-width="1.1"/>
<text x="99.2" y="512.51" font-size="8.4" font-weight="bold" stroke="#111" stroke-width="0.2" text-anchor="end" fill="#111">150</text>
<line x1="100.5" y1="540.75" x2="102.5" y2="540.75" stroke="#000" stroke-width="1.1"/>
<text x="99.2" y="543.76" font-size="8.4" font-weight="bold" stroke="#111" stroke-width="0.2" text-anchor="end" fill="#111">100</text>
<line x1="100.5" y1="572.0" x2="102.5" y2="572.0" stroke="#000" stroke-width="1.1"/>
<text x="99.2" y="575.01" font-size="8.4" font-weight="bold" stroke="#111" stroke-width="0.2" text-anchor="end" fill="#111">50</text>
<line x1="100.5" y1="603.25" x2="102.5" y2="603.25" stroke="#000" stroke-width="1.1"/>
<text x="99.2" y="606.26" font-size="8.4" font-weight="bold" stroke="#111" stroke-width="0.2" text-anchor="end" fill="#111">0</text>
<line x1="102.5" y1="603.25" x2="244.5" y2="603.25" stroke="#111" stroke-width="1.1"/>
<text x="0" y="0" font-size="8.26" font-weight="bold" stroke="#111" stroke-width="0.2" text-anchor="middle" fill="#111" transform="translate(78.66 556) rotate(-90) scale(1.12 1)">% Cell count change</text>
<rect x="108.85" y="541.35" width="23.05" height="61.9" fill="#000" stroke="#000" stroke-width="1.3"/>
<line x1="120.35" y1="603.25" x2="120.35" y2="606.7" stroke="#000" stroke-width="1.2"/>
<rect x="144.35" y="561.1" width="23.05" height="42.15" fill="#a6a6a6" stroke="#000" stroke-width="1.3"/>
<line x1="155.875" y1="556.75" x2="155.875" y2="560.5" stroke="#000" stroke-width="1.25"/>
<line x1="150.275" y1="556.75" x2="161.475" y2="556.75" stroke="#000" stroke-width="1.25"/>
<line x1="155.85" y1="603.25" x2="155.85" y2="606.7" stroke="#000" stroke-width="1.2"/>
<rect x="179.85" y="548.6" width="23.05" height="54.65" fill="#7e7e7e" stroke="#000" stroke-width="1.3"/>
<line x1="191.375" y1="545.75" x2="191.375" y2="548" stroke="#000" stroke-width="1.25"/>
<line x1="185.775" y1="545.75" x2="196.975" y2="545.75" stroke="#000" stroke-width="1.25"/>
<line x1="191.35" y1="603.25" x2="191.35" y2="606.7" stroke="#000" stroke-width="1.2"/>
<rect x="215.1" y="571.35" width="23.05" height="31.9" fill="#d3d3d3" stroke="#000" stroke-width="1.3"/>
<line x1="226.625" y1="567.5" x2="226.625" y2="570.75" stroke="#000" stroke-width="1.25"/>
<line x1="221.025" y1="567.5" x2="232.225" y2="567.5" stroke="#000" stroke-width="1.25"/>
<line x1="226.6" y1="603.25" x2="226.6" y2="606.7" stroke="#000" stroke-width="1.2"/>
<polyline points="187.5,535.5 228.25,535.5 228.25,557.5" fill="none" stroke="#000" stroke-width="1.3"/>
<text x="204.0 211.2" y="531.4" font-size="12.5" text-anchor="middle" fill="#111" stroke="#111" stroke-width="0.3">**</text>
<text x="114.6" y="620.94" font-size="9.9" stroke="#111" stroke-width="0.25" text-anchor="middle" fill="#111">Control</text>
<text x="158" y="620.94" font-size="9.9" stroke="#111" stroke-width="0.25" text-anchor="middle" fill="#111">UK5099</text>
<text x="197.3" y="620.94" font-size="9.9" stroke="#111" stroke-width="0.25" text-anchor="middle" fill="#111">AZD</text>
<text x="216" y="620.94" font-size="9.9" stroke="#111" stroke-width="0.25" text-anchor="start" fill="#111">AZD</text>
<text x="216" y="632.44" font-size="9.9" stroke="#111" stroke-width="0.25" text-anchor="start" fill="#111">+UK5099</text>
<line x1="308.25" y1="507.87" x2="308.25" y2="603.75" stroke="#000" stroke-width="1.25"/>
<line x1="306.25" y1="508.37" x2="308.25" y2="508.37" stroke="#000" stroke-width="1.1"/>
<text x="304.95" y="511.45" font-size="8.6" font-weight="bold" stroke="#111" stroke-width="0.2" text-anchor="end" fill="#111">20</text>
<line x1="306.25" y1="532.09" x2="308.25" y2="532.09" stroke="#000" stroke-width="1.1"/>
<text x="304.95" y="535.17" font-size="8.6" font-weight="bold" stroke="#111" stroke-width="0.2" text-anchor="end" fill="#111">15</text>
<line x1="306.25" y1="555.81" x2="308.25" y2="555.81" stroke="#000" stroke-width="1.1"/>
<text x="304.95" y="558.89" font-size="8.6" font-weight="bold" stroke="#111" stroke-width="0.2" text-anchor="end" fill="#111">10</text>
<line x1="306.25" y1="579.53" x2="308.25" y2="579.53" stroke="#000" stroke-width="1.1"/>
<text x="304.95" y="582.61" font-size="8.6" font-weight="bold" stroke="#111" stroke-width="0.2" text-anchor="end" fill="#111">5</text>
<line x1="306.25" y1="603.25" x2="308.25" y2="603.25" stroke="#000" stroke-width="1.1"/>
<text x="304.95" y="606.33" font-size="8.6" font-weight="bold" stroke="#111" stroke-width="0.2" text-anchor="end" fill="#111">0</text>
<line x1="308.25" y1="603.25" x2="451.25" y2="603.25" stroke="#111" stroke-width="1.1"/>
<text x="0" y="0" font-size="8.93" font-weight="bold" stroke="#111" stroke-width="0.2" text-anchor="middle" fill="#111" transform="translate(287.8 554.75) rotate(-90) scale(1.12 1)">% Cell death</text>
<rect x="315.1" y="578.85" width="23.2" height="24.4" fill="#000" stroke="#000" stroke-width="1.3"/>
<line x1="326.7" y1="575.75" x2="326.7" y2="578.25" stroke="#000" stroke-width="1.25"/>
<line x1="321.09999999999997" y1="575.75" x2="332.3" y2="575.75" stroke="#000" stroke-width="1.25"/>
<line x1="326.7" y1="603.25" x2="326.7" y2="606.7" stroke="#000" stroke-width="1.2"/>
<rect x="350.6" y="562.6" width="23.2" height="40.65" fill="#a6a6a6" stroke="#000" stroke-width="1.3"/>
<line x1="362.2" y1="555" x2="362.2" y2="562" stroke="#000" stroke-width="1.25"/>
<line x1="356.59999999999997" y1="555" x2="367.8" y2="555" stroke="#000" stroke-width="1.25"/>
<line x1="362.2" y1="603.25" x2="362.2" y2="606.7" stroke="#000" stroke-width="1.2"/>
<rect x="386.1" y="578.1" width="23.2" height="25.15" fill="#7e7e7e" stroke="#000" stroke-width="1.3"/>
<line x1="397.7" y1="575" x2="397.7" y2="577.5" stroke="#000" stroke-width="1.25"/>
<line x1="392.09999999999997" y1="575" x2="403.3" y2="575" stroke="#000" stroke-width="1.25"/>
<line x1="397.7" y1="603.25" x2="397.7" y2="606.7" stroke="#000" stroke-width="1.2"/>
<rect x="421.85" y="531.35" width="23.2" height="71.9" fill="#d3d3d3" stroke="#000" stroke-width="1.3"/>
<line x1="433.45" y1="515.75" x2="433.45" y2="530.75" stroke="#000" stroke-width="1.25"/>
<line x1="427.84999999999997" y1="515.75" x2="439.05" y2="515.75" stroke="#000" stroke-width="1.25"/>
<line x1="433.45" y1="603.25" x2="433.45" y2="606.7" stroke="#000" stroke-width="1.2"/>
<polyline points="395.75,566.25 395.75,495.75 430,495.75 430,505" fill="none" stroke="#000" stroke-width="1.3"/>
<text x="408.0 415.2" y="493.9" font-size="12.5" text-anchor="middle" fill="#111" stroke="#111" stroke-width="0.3">**</text>
<text x="325.4" y="620.94" font-size="9.9" stroke="#111" stroke-width="0.25" text-anchor="middle" fill="#111">Control</text>
<text x="368.1" y="620.94" font-size="9.9" stroke="#111" stroke-width="0.25" text-anchor="middle" fill="#111">UK5099</text>
<text x="407.75" y="620.94" font-size="9.9" stroke="#111" stroke-width="0.25" text-anchor="middle" fill="#111">AZD</text>
<text x="426.3" y="620.94" font-size="9.9" stroke="#111" stroke-width="0.25" text-anchor="start" fill="#111">AZD</text>
<text x="426.3" y="632.44" font-size="9.9" stroke="#111" stroke-width="0.25" text-anchor="start" fill="#111">+UK5099</text>
<text x="450.8" y="306.3" font-size="9.8" font-weight="bold" stroke="#111" stroke-width="0.2" text-anchor="middle" fill="#111">Raji</text>
<text x="0" y="0" font-size="10.58" stroke="#111" stroke-width="0.25" text-anchor="start" fill="#111" transform="translate(421.29 382.4) rotate(-90) scale(1.12 1)">Control</text>
<text x="0" y="0" font-size="10.58" stroke="#111" stroke-width="0.25" text-anchor="start" fill="#111" transform="translate(441.09 382.4) rotate(-90) scale(1.12 1)">AZD</text>
<text x="0" y="0" font-size="10.58" stroke="#111" stroke-width="0.25" text-anchor="start" fill="#111" transform="translate(456.49 382.4) rotate(-90) scale(1.12 1)">Metformin</text>
<text x="0" y="0" font-size="10.58" stroke="#111" stroke-width="0.25" text-anchor="start" fill="#111" transform="translate(475.39 382.4) rotate(-90) scale(1.12 1)">UK5099</text>
<text x="0" y="0" font-size="10.58" stroke="#111" stroke-width="0.25" text-anchor="start" fill="#111" transform="translate(494.49 382.4) rotate(-90) scale(1.12 1)">Metformin+AZD</text>
<text x="0" y="0" font-size="10.58" stroke="#111" stroke-width="0.25" text-anchor="start" fill="#111" transform="translate(513.29 382.4) rotate(-90) scale(1.12 1)">UK5099+AZD</text>
<text x="366.4" y="404.04" font-size="11.85" stroke="#111" stroke-width="0.25" text-anchor="start" fill="#111">PARP</text>
<text x="366.4" y="420.64" font-size="11.85" stroke="#111" stroke-width="0.25" text-anchor="start" fill="#111">C-PARP</text>
<text x="366.4" y="447.84" font-size="11.85" stroke="#111" stroke-width="0.25" text-anchor="start" fill="#111">GAPDH</text>
<defs>
<filter id="bl" x="-20%" y="-50%" width="140%" height="200%"><feGaussianBlur stdDeviation="0.8 0.7"/></filter>
<filter id="bls" x="-20%" y="-50%" width="140%" height="200%"><feGaussianBlur stdDeviation="1.6 1.3"/></filter>
<filter id="bl2" x="-20%" y="-50%" width="140%" height="200%"><feGaussianBlur stdDeviation="1.0 0.9"/></filter>
<clipPath id="c1"><rect x="411.5" y="390" width="108.5" height="34.2"/></clipPath>
<clipPath id="c2"><rect x="411.5" y="433" width="108.5" height="25.5"/></clipPath>
<linearGradient id="g1" x1="0" y1="0" x2="0" y2="1"><stop offset="0" stop-color="#a8a8a8"/><stop offset="0.12" stop-color="#c0c0c0"/><stop offset="0.5" stop-color="#c8c8c8"/><stop offset="0.9" stop-color="#c0c0c0"/><stop offset="1" stop-color="#9a9a9a"/></linearGradient>
<linearGradient id="g2" x1="0" y1="0" x2="0" y2="1"><stop offset="0" stop-color="#8c8c8c"/><stop offset="0.15" stop-color="#a4a4a4"/><stop offset="0.7" stop-color="#8e8e8e"/><stop offset="1" stop-color="#7c7c7c"/></linearGradient>
</defs>
<rect x="411.5" y="390" width="108.5" height="34.2" fill="url(#g1)"/>
<g clip-path="url(#c1)">
<g filter="url(#bls)">
<ellipse cx="420.75" cy="405.5" rx="6.449999999999989" ry="3" fill="#555" opacity="0.55"/>
<ellipse cx="437.5" cy="405.5" rx="5.800000000000011" ry="3" fill="#555" opacity="0.55"/>
<ellipse cx="455.95000000000005" cy="405.5" rx="5.849999999999994" ry="3" fill="#555" opacity="0.55"/>
<ellipse cx="474.04999999999995" cy="405.5" rx="6.650000000000006" ry="3" fill="#555" opacity="0.55"/>
<ellipse cx="491.5" cy="405.5" rx="6.800000000000011" ry="3" fill="#555" opacity="0.55"/>
</g><g filter="url(#bl)">
<ellipse cx="420.75" cy="401.4" rx="7.35" ry="3.35" fill="#222"/>
<rect x="416.3" y="398.6" width="8.9" height="5.6" rx="2" fill="#222"/>
<ellipse cx="437.5" cy="401.4" rx="6.7" ry="3.25" fill="#222"/>
<rect x="433.7" y="398.7" width="7.6" height="5.4" rx="2" fill="#222"/>
<ellipse cx="455.95000000000005" cy="401.4" rx="6.75" ry="3.35" fill="#222"/>
<rect x="452.1" y="398.6" width="7.7" height="5.6" rx="2" fill="#222"/>
<ellipse cx="474.04999999999995" cy="401.4" rx="7.55" ry="3.45" fill="#222"/>
<rect x="469.4" y="398.5" width="9.3" height="5.8" rx="2" fill="#222"/>
<ellipse cx="491.5" cy="401.9" rx="7.7" ry="4.25" fill="#222"/>
<rect x="486.7" y="398.2" width="9.6" height="7.4" rx="2" fill="#222"/>
<ellipse cx="509" cy="402.3" rx="6.2" ry="3.6" fill="#888" opacity="0.55"/><ellipse cx="509" cy="400.4" rx="5.8" ry="1.5" fill="#555" opacity="0.6"/>
<ellipse cx="509" cy="404.2" rx="5.4" ry="1.4" fill="#666" opacity="0.5"/>
<ellipse cx="487.3" cy="412.7" rx="4.6" ry="2.8" fill="#1e1e1e"/>
<ellipse cx="495.3" cy="412.7" rx="4.6" ry="2.8" fill="#1e1e1e"/>
<ellipse cx="491.3" cy="412.7" rx="5" ry="2.2" fill="#1e1e1e"/>
<ellipse cx="505.2" cy="412.7" rx="3.9" ry="2.2" fill="#2a2a2a"/>
<ellipse cx="511.8" cy="412.7" rx="3.9" ry="2.2" fill="#2a2a2a"/>
<ellipse cx="508.5" cy="412.7" rx="4.5" ry="1.8" fill="#2a2a2a"/>
</g></g>
<polyline points="520,390.4 411.9,390.4 411.9,423.8 520,423.8" fill="none" stroke="#4a4a4a" stroke-width="0.9"/>
<rect x="411.5" y="433" width="108.5" height="25.5" fill="url(#g2)"/>
<g clip-path="url(#c2)"><g filter="url(#bl2)">
<rect x="413.5" y="442.2" width="110" height="7.6" fill="#202020"/>
<ellipse cx="422" cy="446" rx="9" ry="5.2" fill="#1e1e1e"/>
<ellipse cx="439" cy="446" rx="9" ry="5.2" fill="#1e1e1e"/>
<ellipse cx="456.5" cy="446" rx="8.5" ry="5.2" fill="#1e1e1e"/>
<ellipse cx="475" cy="446" rx="9.5" ry="5.2" fill="#1e1e1e"/>
<ellipse cx="492" cy="446" rx="9" ry="5.2" fill="#1e1e1e"/>
<ellipse cx="509.6" cy="446" rx="9" ry="5.2" fill="#1e1e1e"/>
</g></g>
<polyline points="520,433.4 411.9,433.4 411.9,458.1 520,458.1" fill="none" stroke="#2c2c2c" stroke-width="1"/>
<line x1="519.5" y1="433" x2="519.5" y2="458.5" stroke="#222" stroke-width="1"/>
</svg>
</body></html>
